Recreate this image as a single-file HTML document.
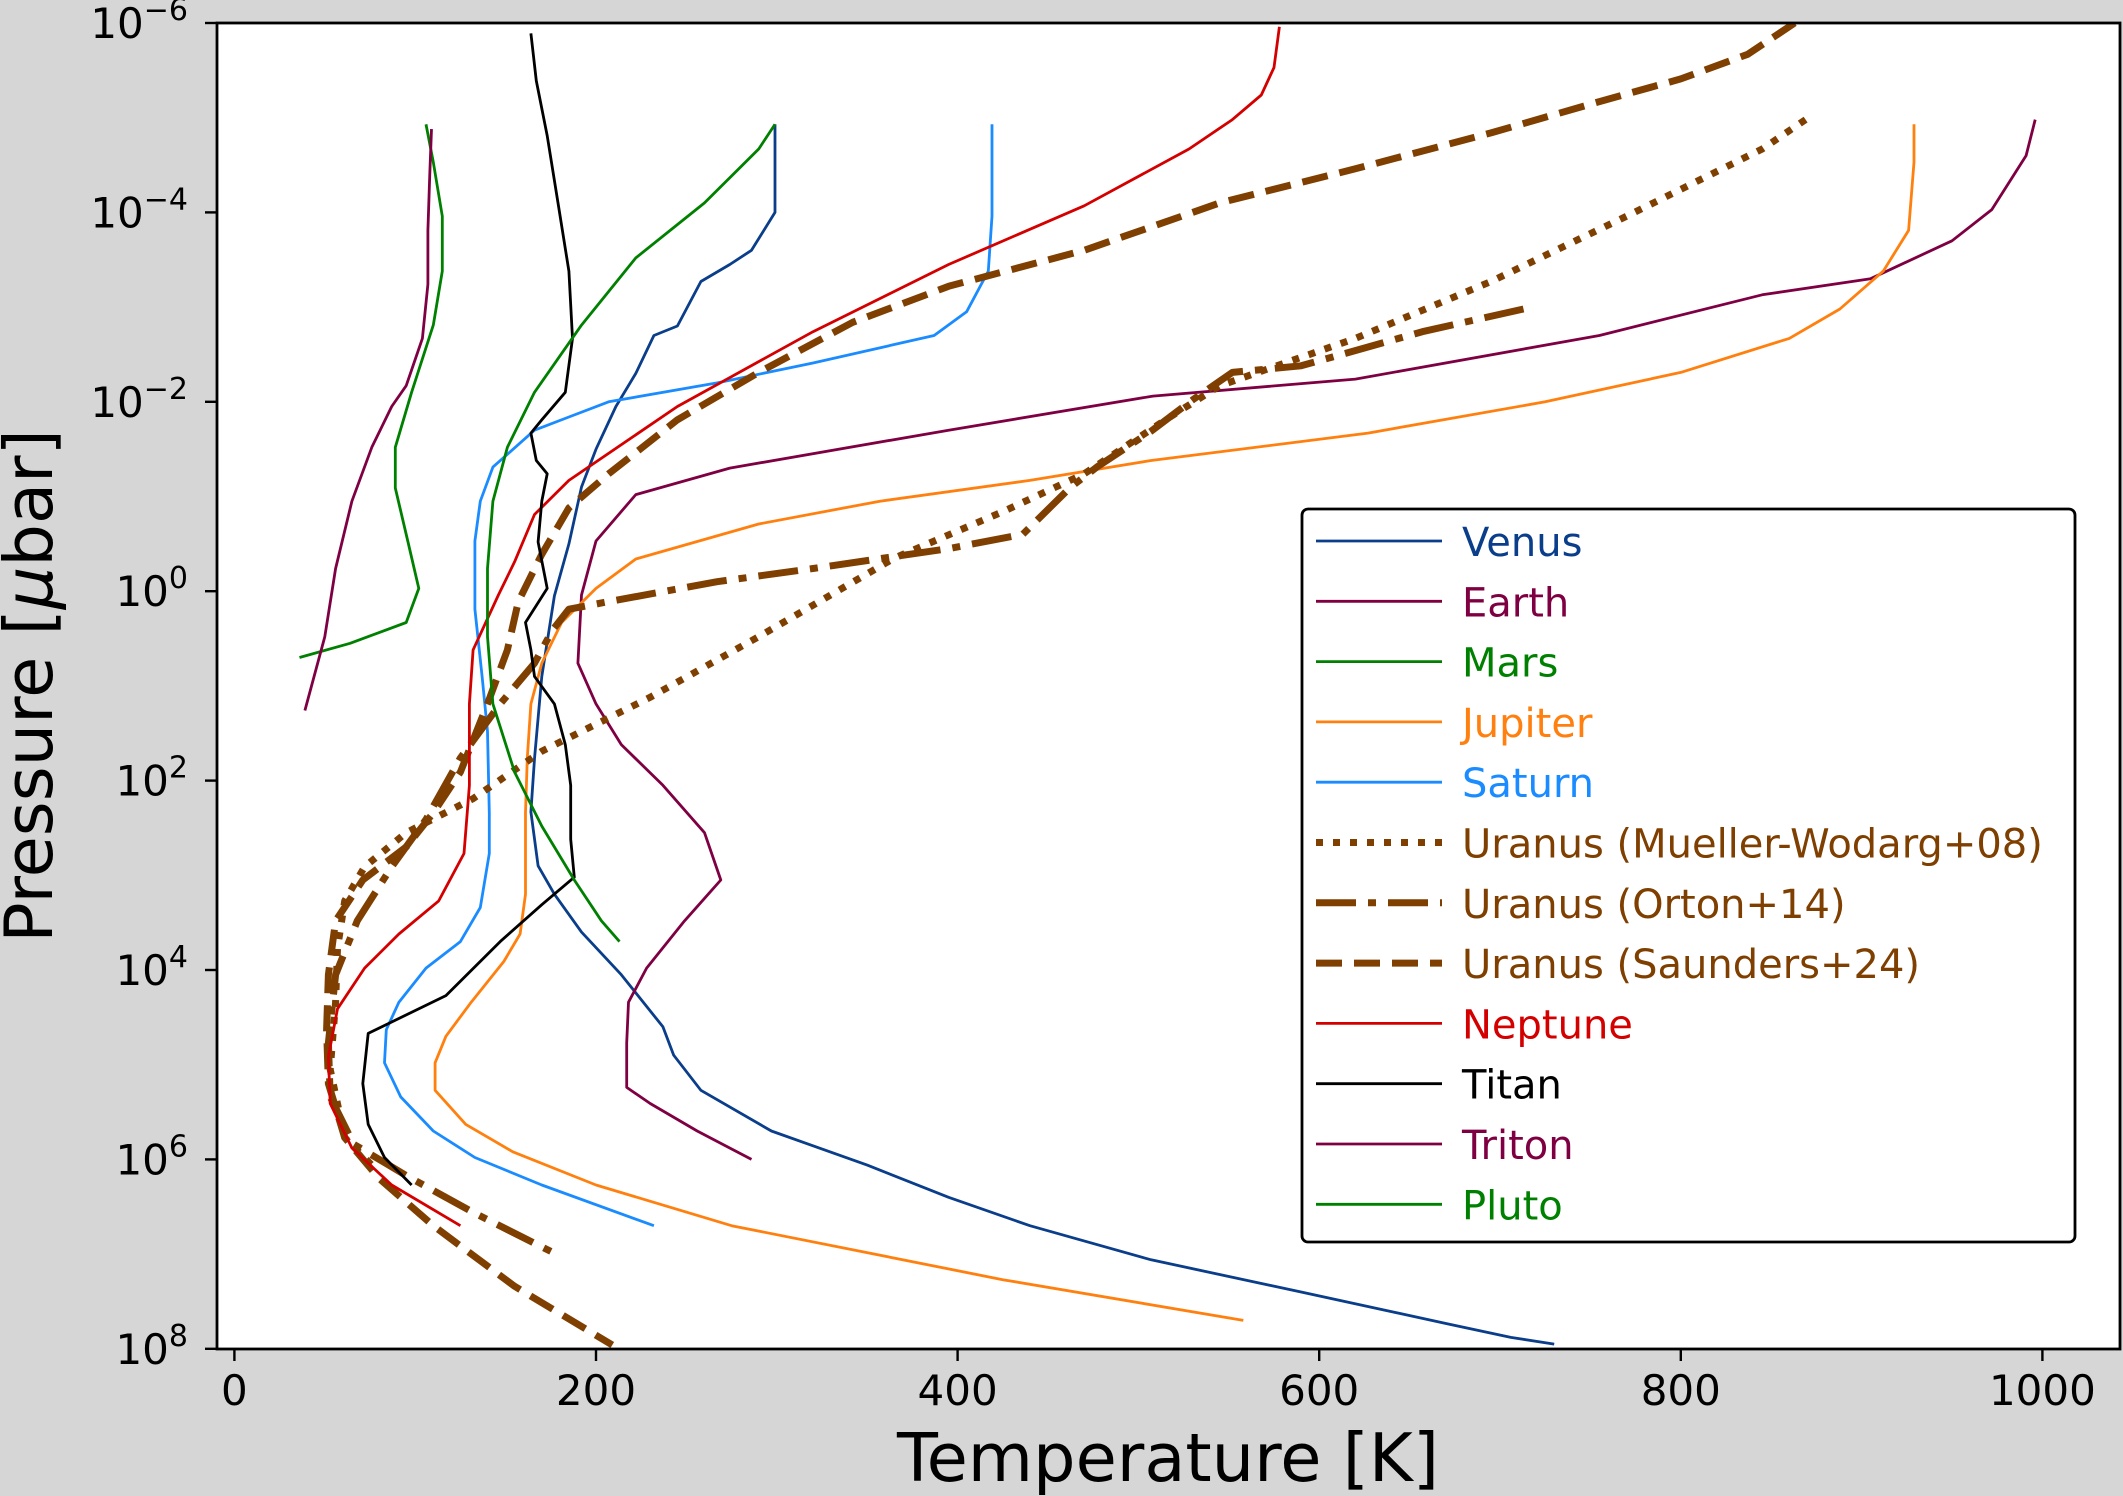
<!DOCTYPE html>
<html><head><meta charset="utf-8"><style>
html,body{margin:0;padding:0;background:#d6d6d6;}
svg{display:block;font-family:"DejaVu Sans","Liberation Sans",sans-serif;}
</style></head><body>
<svg id="chart" width="2123" height="1496" viewBox="0 0 2123 1496" xmlns="http://www.w3.org/2000/svg">
<rect x="0" y="0" width="2123" height="1496" fill="#d6d6d6"/>
<rect x="217" y="23" width="1903" height="1326" fill="#ffffff"/>
<g id="series"></g>
<g id="axes"></g>
<g id="legend"></g>
<text x="1168" y="1481" font-size="67" text-anchor="middle">Temperature [K]</text>
<text x="0" y="0" font-size="67" text-anchor="middle" transform="translate(52,686) rotate(-90)">Pressure [<tspan font-style="italic">μ</tspan>bar]</text>
</svg>
<script>
// ---- data: temperature [K] and log10 pressure [μbar] ----
const seriesNames = ["Venus","Earth","Mars","Jupiter","Saturn","Uranus (Mueller-Wodarg+08)","Uranus (Orton+14)","Uranus (Saunders+24)","Neptune","Titan","Triton","Pluto"];
const xTicks = [0,200,400,600,800,1000];
const yTicks = [-6,-4,-2,0,2,4,6,8];
const venusT = [299,299,286,274,258,245,232,222,211,200,192,185,177,170,166,164,168,177,192,214,237,243,258,297,350,395,440,507,590,672,706,730];
const venusP = [-4.93,-4,-3.6,-3.45,-3.27,-2.8,-2.7,-2.3,-1.95,-1.5,-1.1,-0.5,0.05,0.9,1.77,2.33,2.9,3.2,3.6,4.05,4.6,4.9,5.27,5.7,6.06,6.4,6.7,7.06,7.4,7.74,7.88,7.95];
const earthT = [996,991,972,950,905,845,755,620,508,395,274,222,200,192,190,200,214,237,260,269,249,228,218,217,217,230,256,286];
const earthP = [-4.98,-4.6,-4.03,-3.7,-3.3,-3.13,-2.7,-2.24,-2.06,-1.7,-1.3,-1.02,-0.53,0.04,0.76,1.19,1.62,2.05,2.55,3.05,3.48,3.98,4.34,4.77,5.24,5.41,5.7,6.0];
const marsT = [106,110,115,115,110,98,89,89,96,102,95,64,36];
const marsP = [-4.93,-4.53,-3.96,-3.38,-2.81,-2.1,-1.52,-1.09,-0.52,-0.03,0.33,0.55,0.7];
const jupiterT = [929,929,926,912,888,860,800,725,627,507,440,357,290,222,200,181,170,164,162,161,161,158,149,131,117,111,111,128,154,200,275,425,558];
const jupiterP = [-4.93,-4.53,-3.81,-3.38,-2.98,-2.67,-2.31,-2.0,-1.67,-1.38,-1.17,-0.95,-0.71,-0.34,-0.03,0.33,0.76,1.19,1.76,2.34,3.2,3.62,3.91,4.34,4.7,4.98,5.27,5.63,5.92,6.27,6.7,7.27,7.7];
const saturnT = [419,419,417,405,387,320,267,207,185,166,143,136,133,133,137,140,141,141,136,125,106,91,84,83,92,110,133,170,232];
const saturnP = [-4.93,-3.96,-3.38,-2.95,-2.7,-2.41,-2.2,-2.0,-1.84,-1.7,-1.31,-0.95,-0.53,0.19,0.9,1.48,2.34,2.77,3.34,3.7,3.98,4.34,4.63,4.98,5.34,5.7,5.98,6.27,6.7];
const muellerT = [869,845,770,695,620,545,515,470,425,365,290,230,170,132,95,72,61,57,56,53,61,76];
const muellerP = [-4.98,-4.67,-3.96,-3.27,-2.67,-2.17,-1.81,-1.24,-0.84,-0.35,0.48,1.12,1.69,2.19,2.55,2.91,3.27,3.77,4.34,5.05,5.77,6.06];
const ortonT = [713,657,590,552,530,507,477,462,436,395,320,267,207,185,176,166,147,125,106,87,68,56,52,53,66,95,132,177];
const ortonP = [-2.98,-2.74,-2.38,-2.31,-2.02,-1.69,-1.31,-1.09,-0.6,-0.45,-0.24,-0.1,0.11,0.19,0.41,0.76,1.19,1.76,2.41,2.91,3.48,4.05,4.77,5.34,5.84,6.17,6.56,6.99];
const saundersT = [863,837,800,755,695,620,545,470,395,342,290,245,207,185,170,157,151,140,125,110,95,71,56,52,51,52,61,80,110,155,209];
const saundersP = [-6.0,-5.67,-5.41,-5.17,-4.84,-4.46,-4.1,-3.6,-3.22,-2.84,-2.31,-1.81,-1.24,-0.88,-0.39,0.11,0.62,1.19,1.91,2.34,2.7,3.05,3.48,4.05,4.63,5.2,5.77,6.2,6.7,7.34,7.96];
const neptuneT = [578,575,568,552,528,470,395,320,245,185,166,155,146,132,130,130,127,113,91,72,57,52,53,65,87,125];
const neptuneP = [-5.96,-5.53,-5.24,-4.98,-4.67,-4.07,-3.45,-2.74,-1.95,-1.17,-0.81,-0.31,0.04,0.62,1.19,2.05,2.77,3.27,3.62,3.98,4.41,4.91,5.41,5.88,6.27,6.7];
const titanT = [164,167,173,179,185,187,183,170,164,167,173,170,168,173,161,164,166,177,183,186,186,188,170,147,117,74,71,74,83,98];
const titanP = [-5.89,-5.39,-4.81,-4.1,-3.38,-2.67,-2.1,-1.81,-1.67,-1.38,-1.24,-0.95,-0.52,-0.03,0.33,0.62,0.9,1.19,1.62,2.05,2.62,3.02,3.31,3.7,4.27,4.67,5.2,5.63,5.98,6.27];
const tritonT = [109,108,107,107,104,95,87,76,65,56,50,39];
const tritonP = [-4.88,-4.38,-3.81,-3.24,-2.67,-2.17,-1.95,-1.52,-0.95,-0.24,0.48,1.26];
const plutoT = [299,290,260,222,192,166,151,143,140,140,143,155,170,188,203,213];
const plutoP = [-4.93,-4.67,-4.1,-3.52,-2.81,-2.1,-1.52,-0.95,-0.24,0.48,1.19,1.91,2.48,3.05,3.48,3.7];

// ---- layout ----
const NS = "http://www.w3.org/2000/svg";
const X0 = 234.4, XK = 1.808;
const YTOP = 23, YD = 94.7;
const PL = 217, PR = 2120, PB = 1349;
function xs(t){ return X0 + t*XK; }
function ys(lp){ return YTOP + (lp + 6)*YD; }
const styles = [
 {c:"#0a3d8a", w:2.8, d:null},
 {c:"#7f0042", w:2.8, d:null},
 {c:"#008000", w:2.8, d:null},
 {c:"#ff800e", w:2.8, d:null},
 {c:"#1a8cff", w:2.8, d:null},
 {c:"#7f3f00", w:7, d:"7 10"},
 {c:"#7f3f00", w:7, d:"40 12 8 12"},
 {c:"#7f3f00", w:7, d:"26 12"},
 {c:"#d40000", w:2.8, d:null},
 {c:"#000000", w:2.8, d:null},
 {c:"#7f0042", w:2.8, d:null},
 {c:"#008000", w:2.8, d:null}
];
const dataT = [venusT,earthT,marsT,jupiterT,saturnT,muellerT,ortonT,saundersT,neptuneT,titanT,tritonT,plutoT];
const dataP = [venusP,earthP,marsP,jupiterP,saturnP,muellerP,ortonP,saundersP,neptuneP,titanP,tritonP,plutoP];
const slugs = ["venus","earth","mars","jupiter","saturn","uranus-mueller-wodarg","uranus-orton","uranus-saunders","neptune","titan","triton","pluto"];

const sg = document.getElementById("series");
for(let i=0;i<seriesNames.length;i++){
  const pts = dataT[i].map((t,k)=>xs(t).toFixed(1)+","+ys(dataP[i][k]).toFixed(1)).join(" ");
  const pl = document.createElementNS(NS,"polyline");
  pl.setAttribute("points",pts);
  pl.setAttribute("fill","none");
  pl.setAttribute("stroke",styles[i].c);
  pl.setAttribute("stroke-width",styles[i].w);
  pl.setAttribute("stroke-linejoin","round");
  if(styles[i].d){ pl.setAttribute("stroke-dasharray",styles[i].d); }
  
  
  sg.appendChild(pl);
}
const cp = document.createElementNS(NS,"clipPath"); cp.setAttribute("id","pc");
const cr = document.createElementNS(NS,"rect");
cr.setAttribute("x",PL); cr.setAttribute("y",YTOP); cr.setAttribute("width",PR-PL); cr.setAttribute("height",PB-YTOP);
cp.appendChild(cr); document.getElementById("chart").appendChild(cp);
sg.setAttribute("clip-path","url(#pc)");

const ag = document.getElementById("axes");
const frame = document.createElementNS(NS,"rect");
frame.setAttribute("x",PL); frame.setAttribute("y",YTOP); frame.setAttribute("width",PR-PL); frame.setAttribute("height",PB-YTOP);
frame.setAttribute("fill","none"); frame.setAttribute("stroke","#000"); frame.setAttribute("stroke-width","2.8");


ag.appendChild(frame);
for(const t of xTicks){
  const x = xs(t);
  const ln = document.createElementNS(NS,"line");
  ln.setAttribute("x1",x); ln.setAttribute("x2",x); ln.setAttribute("y1",PB); ln.setAttribute("y2",PB+12);
  ln.setAttribute("stroke","#000"); ln.setAttribute("stroke-width","2.4");
  
  
  ag.appendChild(ln);
  const tx = document.createElementNS(NS,"text");
  tx.setAttribute("x",x); tx.setAttribute("y",PB+56); tx.setAttribute("font-size","42"); tx.setAttribute("text-anchor","middle");
  tx.textContent = t;
  
  
  ag.appendChild(tx);
}
for(const e of yTicks){
  const y = ys(e);
  const ln = document.createElementNS(NS,"line");
  ln.setAttribute("x1",PL-12); ln.setAttribute("x2",PL); ln.setAttribute("y1",y); ln.setAttribute("y2",y);
  ln.setAttribute("stroke","#000"); ln.setAttribute("stroke-width","2.4");
  
  
  ag.appendChild(ln);
  const tx = document.createElementNS(NS,"text");
  tx.setAttribute("x",188); tx.setAttribute("y",y+15); tx.setAttribute("font-size","42"); tx.setAttribute("text-anchor","end");
  const b = document.createElementNS(NS,"tspan"); b.textContent="10";
  const s = document.createElementNS(NS,"tspan"); s.setAttribute("dy","-18"); s.setAttribute("font-size","30");
  s.textContent = (e<0?"\u2212":"")+Math.abs(e);
  tx.appendChild(b); tx.appendChild(s);
  
  
  ag.appendChild(tx);
}

const lg = document.getElementById("legend");
const lb = document.createElementNS(NS,"rect");
lb.setAttribute("x",1302); lb.setAttribute("y",509); lb.setAttribute("width",773); lb.setAttribute("height",733);
lb.setAttribute("rx",6); lb.setAttribute("fill","#fff"); lb.setAttribute("stroke","#000"); lb.setAttribute("stroke-width","2.8");


lg.appendChild(lb);
for(let i=0;i<seriesNames.length;i++){
  const y = 541 + i*60.3;
  const ln = document.createElementNS(NS,"line");
  ln.setAttribute("x1",1316); ln.setAttribute("x2",1442); ln.setAttribute("y1",y); ln.setAttribute("y2",y);
  ln.setAttribute("stroke",styles[i].c); ln.setAttribute("stroke-width",styles[i].w);
  if(styles[i].d){ ln.setAttribute("stroke-dasharray",styles[i].d); }
  
  
  lg.appendChild(ln);
  const tx = document.createElementNS(NS,"text");
  tx.setAttribute("x",1462); tx.setAttribute("y",y+15); tx.setAttribute("font-size","40"); tx.setAttribute("fill",styles[i].c);
  tx.textContent = seriesNames[i];
  
  
  lg.appendChild(tx);
}
</script>
</body></html>
